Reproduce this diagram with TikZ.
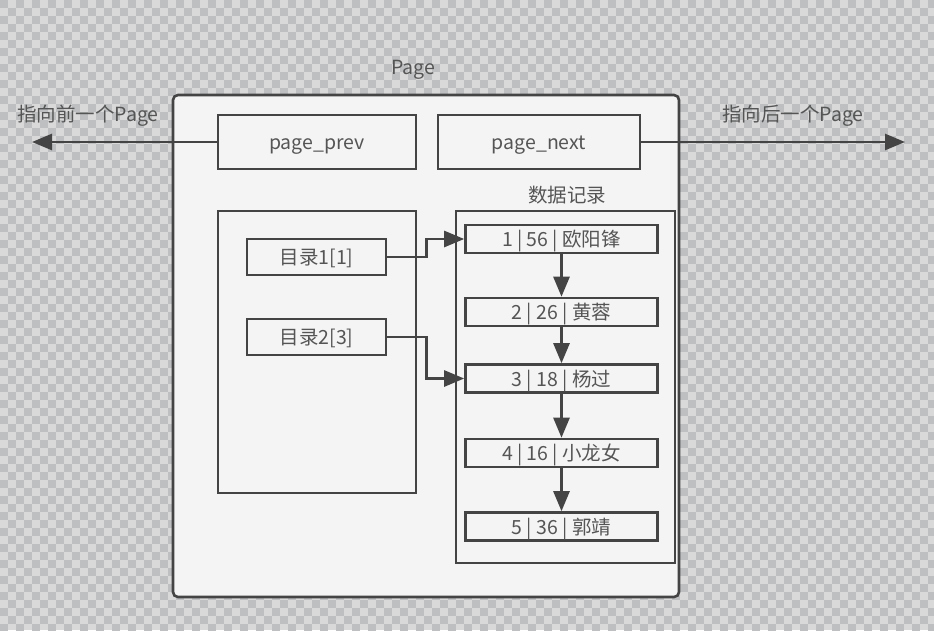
\documentclass[tikz,border=0pt]{standalone}
\usepackage{fontspec}
\setmainfont{Noto Sans CJK SC}
\usetikzlibrary{arrows.meta}
\definecolor{chkA}{HTML}{D9D9D9}
\definecolor{chkB}{HTML}{BDBFC0}
\definecolor{ln}{HTML}{444444}
\definecolor{tx}{HTML}{555555}
\definecolor{pg}{HTML}{F4F4F4}
\tikzset{
  txtfont/.style={font=\fontsize{19.5}{22}\selectfont, text=tx, text height=1.5em, text depth=0pt},
  box/.style={draw=ln, line width=2.6pt, inner sep=0pt, txtfont},
  lbl/.style={inner sep=0pt, txtfont},
  conn/.style={draw=ln, line width=2.6pt, -{Triangle[length=20pt,width=16pt]}},
}
\begin{document}
\begin{tikzpicture}[x=1pt,y=-1pt]
\useasboundingbox (0,0) rectangle (934,630);
% checkerboard background
\fill[chkA] (0,0) rectangle (934,630);
\foreach \j in {0,...,78}{
  \pgfmathsetmacro{\ph}{mod(\j,2)*8}
  \draw[chkB, line width=8pt, dash pattern=on 8pt off 8pt, dash phase=\ph pt] (0,8*\j+4) -- (934,8*\j+4);
}
% page container
\node[box, fill=pg, rounded corners=5pt, minimum width=506pt, minimum height=502pt] (page) at (426,346) {};
\node[lbl] (pagelbl) at (413,67) {Page};
\node[box, minimum width=198pt, minimum height=54pt] (prev) at (317,142) {page\_prev};
\node[box, minimum width=202pt, minimum height=54pt] (next) at (539,142) {page\_next};
\node[box, minimum width=198pt, minimum height=282pt] (dir) at (317,352) {};
\node[box, minimum width=139pt, minimum height=36pt] (d1) at (316.5,257) {目录1[1]};
\node[box, minimum width=139pt, minimum height=36pt] (d2) at (316.5,337) {目录2[3]};
\node[lbl] (datalbl) at (567,195) {数据记录};
\node[box, minimum width=219pt, minimum height=352pt] (data) at (565.5,387) {};
\node[box, minimum width=192pt, minimum height=28pt] (r1) at (561.5,239) {1 | 56 | 欧阳锋};
\node[box, minimum width=192pt, minimum height=28pt] (r2) at (561.5,312) {2 | 26 | 黄蓉};
\node[box, minimum width=192pt, minimum height=28pt] (r3) at (561.5,378.5) {3 | 18 | 杨过};
\node[box, minimum width=192pt, minimum height=28pt] (r4) at (561.5,453) {4 | 16 | 小龙女};
\node[box, minimum width=192pt, minimum height=28pt] (r5) at (561.5,526.5) {5 | 36 | 郭靖};
% outer arrows
\coordinate (lend) at (32,142);
\coordinate (rend) at (905,142);
\node[lbl] (llbl) at (88,114) {指向前一个Page};
\node[lbl] (rlbl) at (793,114) {指向后一个Page};
\draw[conn] (prev.west) -- (lend);
\draw[conn] (next.east) -- (rend);
% record chain
\draw[conn] (r1.south) -- (r2.north);
\draw[conn] (r2.south) -- (r3.north);
\draw[conn] (r3.south) -- (r4.north);
\draw[conn] (r4.south) -- (r5.north);
% directory links
\draw[conn] (d1.east) -- ++(39,0) |- (r1.west);
\draw[conn] (d2.east) -- ++(39,0) |- (r3.west);
\end{tikzpicture}
\end{document}
